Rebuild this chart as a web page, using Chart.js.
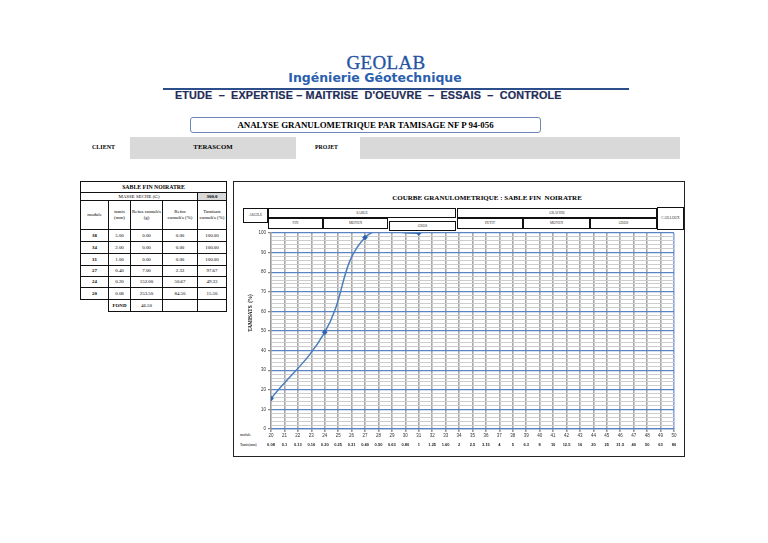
<!DOCTYPE html>
<html>
<head>
<meta charset="utf-8">
<script src="https://cdn.jsdelivr.net/npm/chart.js@4.4.0/dist/chart.umd.min.js"></script>
<style>
  html, body { margin:0; padding:0; background:#fff; }
  #page { position:relative; width:768px; height:543px; overflow:hidden; background:#fff; }
  .abs { position:absolute; }
  #geolab { left:0; width:770px; top:52px; text-align:center; font-family:"Liberation Serif", serif; font-size:19px; color:#2453a3; letter-spacing:0.3px; -webkit-text-stroke:0.3px #2453a3; }
  #geolab span { position:relative; left:1px; }
  #inge { left:0; width:750px; top:70px; text-align:center; font-family:"DejaVu Sans", sans-serif; font-weight:bold; font-size:12.5px; color:#2b5fae; }
  #bline { left:163px; top:88px; width:466px; height:2px; background:#2c4f8c; }
  #etude { left:175px; top:89px; width:400px; font-family:"Liberation Sans", Arial, sans-serif; font-weight:bold; font-size:10.8px; color:#1f2d57; white-space:nowrap; letter-spacing:0.15px; -webkit-text-stroke:0.2px #1f2d57; }
  #titlebox { left:190px; top:117px; width:349px; height:14px; border:1.3px solid #6d86b5; border-radius:3px; text-align:center; font-family:"Liberation Serif", serif; font-weight:bold; font-size:8.9px; line-height:14px; }
  .gray { background:#d9d9d9; }
  .lbl { font-family:"Liberation Serif", serif; font-weight:bold; font-size:6px; }
  #frame { left:233px; top:181px; width:452px; height:276px; border:1.5px solid #222; box-sizing:border-box; }
  #ctitle { left:237px; width:500px; top:194px; text-align:center; font-family:"Liberation Serif", serif; font-weight:bold; font-size:7px; }
  .hb { position:absolute; box-sizing:border-box; border:1px solid #111; font-family:"Liberation Serif", serif; font-size:3.6px; text-align:center; background:#fff; color:#333; }
  .hb.t { border-width:1.3px; }
  table#data { position:absolute; left:80px; top:181px; border-collapse:collapse; table-layout:fixed; font-family:"Liberation Serif", serif; font-size:4.9px; }
  table#data td { border:1px solid #111; text-align:center; padding:0; overflow:hidden; line-height:1.15; }
  table#data td.b { font-weight:bold; }
  #chartwrap { position:absolute; left:0; top:0; width:768px; height:543px; z-index:2; pointer-events:none; }
  .rowlbl { position:absolute; font-family:"Liberation Serif", serif; font-size:3.6px; }
</style>
</head>
<body>
<div id="page">
  <div id="geolab" class="abs"><span>GEOLAB</span></div>
  <div id="inge" class="abs">Ingénierie Géotechnique</div>
  <div id="bline" class="abs"></div>
  <div id="etude" class="abs">ETUDE &nbsp;–&nbsp; EXPERTISE – MAITRISE &nbsp;D'OEUVRE &nbsp;–&nbsp; ESSAIS &nbsp;–&nbsp; CONTROLE</div>
  <div id="titlebox" class="abs">ANALYSE GRANULOMETRIQUE PAR TAMISAGE NF P 94-056</div>

  <div class="abs lbl" style="left:92px;top:144px;">CLIENT</div>
  <div class="abs gray" style="left:130px;top:137px;width:166px;height:22px;"></div>
  <div class="abs lbl" style="left:130px;top:143px;width:166px;text-align:center;font-size:6.8px;">TERASCOM</div>
  <div class="abs lbl" style="left:315px;top:144px;font-size:5.8px;">PROJET</div>
  <div class="abs gray" style="left:360px;top:137px;width:320px;height:22px;"></div>

  <table id="data"></table>

  <div id="frame" class="abs"></div>
  <div id="ctitle" class="abs">COURBE GRANULOMETRIQUE : SABLE FIN &nbsp;NOIRATRE</div>
  <div id="boxes"></div>
  <div class="rowlbl" style="left:240px;top:433px;">module</div>
  <div class="rowlbl" style="left:240px;top:443px;">Tamis(mm)</div>

  <div id="chartwrap"><canvas id="c" width="768" height="543"></canvas></div>
</div>
<script>
// ---- table data ----
const modules   = [38, 34, 31, 27, 24, 20];
const tamisMM   = ['5.00', '2.00', '1.00', '0.40', '0.20', '0.08'];
const refusG    = ['0.00', '0.00', '0.00', '7.00', '152.00', '253.50'];
const refusPct  = ['0.00', '0.00', '0.00', '2.33', '50.67', '84.50'];
const tamisats  = ['100.00', '100.00', '100.00', '97.67', '49.33', '15.50'];
const fondG = '46.50';
const masseSeche = '300.0';

// ---- curve data ----
const curveModules  = [20, 24, 27, 31];
const curveTamisats = [15.5, 49.33, 97.67, 100];

// ---- axis labels ----
const moduleTicks = [20,21,22,23,24,25,26,27,28,29,30,31,32,33,34,35,36,37,38,39,40,41,42,43,44,45,46,47,48,49,50];
const tamisTickLabels = ['0.08','0.1','0.13','0.16','0.20','0.25','0.31','0.40','0.50','0.63','0.80','1','1.25','1.60','2','2.5','3.15','4','5','6.3','8','10','12.5','16','20','25','31.5','40','50','63','80'];

// ---- header boxes ----
const boxDefs = [
  ['ARGILE', 243, 208, 25, 15, 't'],
  ['SABLE', 268, 208, 188, 10, ''],
  ['FIN', 268, 218, 55, 11, 't'],
  ['MOYEN', 323, 218, 65, 11, 't'],
  ['GROS', 389, 221, 67, 10, 't'],
  ['GRAVIER', 457, 208, 200, 10, ''],
  ['PETIT', 457, 218, 66, 11, 't'],
  ['MOYEN', 523, 218, 67, 11, 't'],
  ['GROS', 590, 218, 67, 11, 't'],
  ['CAILLOUX', 657, 207, 27, 23, 't']
];
const bx = document.getElementById('boxes');
boxDefs.forEach(b => {
  const d = document.createElement('div');
  d.className = 'hb ' + b[5];
  d.style.left = b[1] + 'px'; d.style.top = b[2] + 'px';
  d.style.width = b[3] + 'px'; d.style.height = b[4] + 'px';
  d.style.lineHeight = (b[4] - 2) + 'px';
  d.textContent = b[0];
  bx.appendChild(d);
});

// ---- build table ----
const colW = [28, 22, 32, 35, 29];
const tbl = document.getElementById('data');
let html = '<colgroup>' + colW.map(w => '<col style="width:' + w + 'px">').join('') + '</colgroup>';
html += '<tr style="height:11px"><td colspan="5" class="b" style="font-size:5.8px;border-width:1.5px">SABLE FIN NOIRATRE</td></tr>';
html += '<tr style="height:8px"><td colspan="4">MASSE SECHE (G)</td><td class="b" style="background:#d9d9d9">' + masseSeche + '</td></tr>';
html += '<tr style="height:29px"><td>module</td><td>tamis<br>(mm)</td><td>Refus cumulés<br>(g)</td><td>Refus<br>cumulés (%)</td><td>Tamisats<br>cumulés (%)</td></tr>';
const rh = [12, 12, 12, 11, 11, 12];
modules.forEach((m, i) => {
  const thick = (i === 0 || i === 3) ? 'border-top-width:1.5px;' : '';
  html += '<tr style="height:' + rh[i] + 'px"><td class="b" style="' + thick + '">' + m + '</td><td style="' + thick + '">' + tamisMM[i] + '</td><td style="' + thick + '">' + refusG[i] + '</td><td style="' + thick + '">' + refusPct[i] + '</td><td style="' + thick + '">' + tamisats[i] + '</td></tr>';
});
html += '<tr style="height:12px"><td style="border:none"></td><td class="b">FOND</td><td>' + fondG + '</td><td></td><td style="border-right:1px solid #111"></td></tr>';
tbl.innerHTML = html;

// ---- chart ----
const yTitlePlugin = {
  id: 'yTitle',
  afterDraw(chart) {
    const ctx = chart.ctx;
    ctx.save();
    ctx.translate(251, 313);
    ctx.rotate(-Math.PI / 2);
    ctx.font = 'bold 5.2px "Liberation Serif"';
    ctx.fillStyle = '#111';
    ctx.textAlign = 'center';
    ctx.textBaseline = 'middle';
    ctx.fillText('TAMISATS  (%)', 0, 0);
    ctx.restore();
  }
};

new Chart(document.getElementById('c'), {
  type: 'scatter',
  data: {
    datasets: [{
      data: curveModules.map((m, i) => ({ x: m, y: curveTamisats[i] })),
      showLine: true,
      tension: 0.42,
      capBezierPoints: false,
      clip: 0,
      borderColor: '#4a7ebb',
      borderWidth: 1.5,
      pointStyle: 'rectRot',
      pointRadius: 2.6,
      pointBackgroundColor: '#2e62ad',
      pointBorderColor: '#2e62ad',
      pointBorderWidth: 0.5
    }]
  },
  plugins: [yTitlePlugin],
  options: {
    responsive: false,
    animation: false,
    events: [],
    elements: { line: { capBezierPoints: false } },
    layout: { padding: { left: 0, top: 233, right: 94, bottom: 90 } },
    plugins: { legend: { display: false }, tooltip: { enabled: false } },
    scales: {
      x: {
        type: 'linear', position: 'bottom',
        min: 20, max: 50,
        afterFit: s => { s.height = 10; },
        afterBuildTicks: s => { s.ticks = moduleTicks.map(v => ({ value: v })); },
        ticks: { autoSkip: false, maxRotation: 0, padding: 1, color: '#333', font: { size: 4.5, family: 'Liberation Sans' } },
        grid: {
          color: c => (c.tick && c.tick.value === 50) ? '#8aa6d6' : '#a8a8a8',
          lineWidth: 1.6,
          tickLength: 3,
          tickColor: '#9a9a9a'
        },
        border: { display: true, color: '#5b84c4', width: 1.2 }
      },
      x2: {
        type: 'linear', position: 'bottom',
        min: 20, max: 50,
        afterFit: s => { s.height = 14; },
        afterBuildTicks: s => { s.ticks = moduleTicks.map(v => ({ value: v })); },
        ticks: {
          autoSkip: false, maxRotation: 0, padding: 3, color: '#222',
          font: { size: 4, weight: 'bold', family: 'Liberation Sans' },
          callback: v => tamisTickLabels[moduleTicks.indexOf(v)]
        },
        grid: { display: false, drawTicks: false, tickLength: 0 },
        border: { display: false }
      },
      y: {
        type: 'linear', position: 'left',
        min: 0, max: 100,
        afterFit: s => { s.width = 271; },
        ticks: {
          stepSize: 2, autoSkip: false, padding: 2, color: '#333',
          font: { size: 4.5, family: 'Liberation Sans' },
          callback: v => (v % 10 === 0 ? v : '')
        },
        grid: {
          color: c => (c.tick && c.tick.value % 10 === 0) ? '#5b84c4' : '#cdcdcd',
          lineWidth: c => (c.tick && c.tick.value % 10 === 0) ? 1.2 : 1,
          tickLength: 3,
          tickColor: c => (c.tick && c.tick.value % 10 === 0) ? '#888' : 'rgba(0,0,0,0)'
        },
        border: { display: true, color: '#9a9a9a', width: 1.2 }
      }
    }
  }
});
</script>
</body>
</html>
